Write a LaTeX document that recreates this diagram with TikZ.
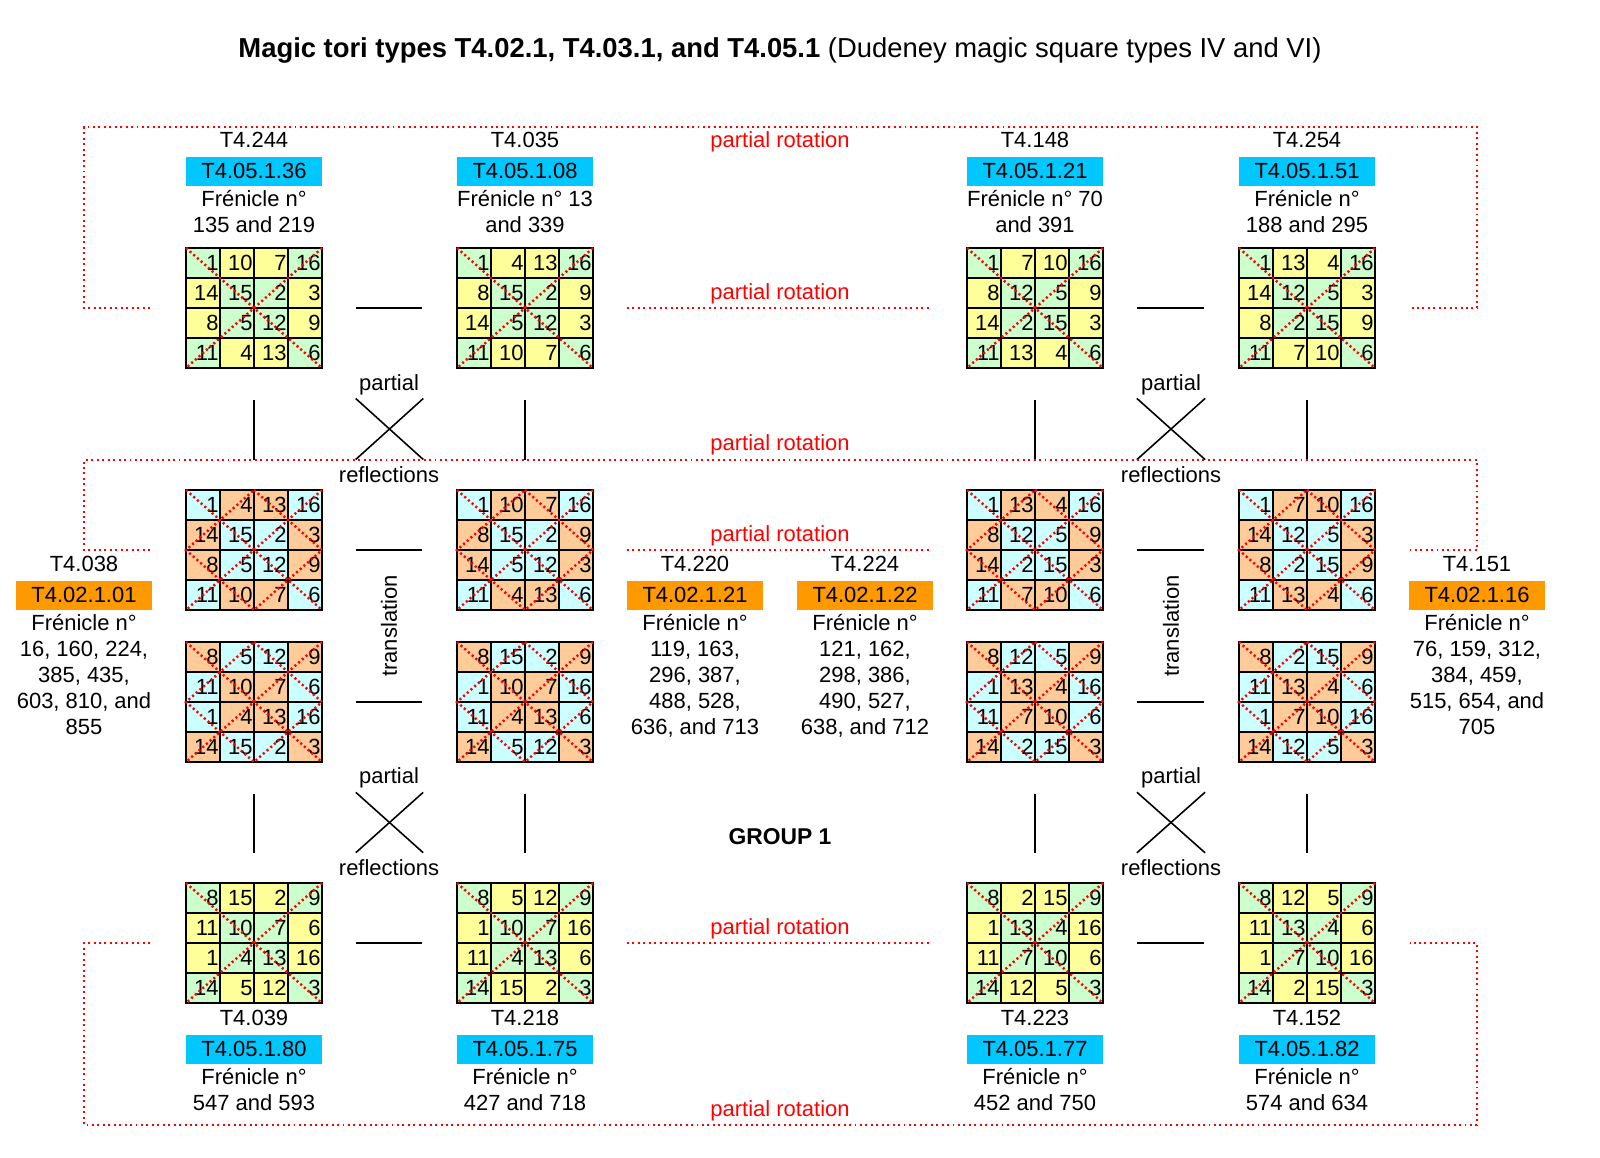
\documentclass[tikz,border=0pt]{standalone}
\usepackage{fontspec}
\setmainfont{Liberation Sans}
\usetikzlibrary{positioning}

\definecolor{cellgreen}{RGB}{204,255,204}
\definecolor{cellyellow}{RGB}{255,255,153}
\definecolor{cellcyan}{RGB}{204,255,255}
\definecolor{cellorange}{RGB}{255,204,153}
\definecolor{boxcyan}{RGB}{0,200,255}
\definecolor{boxorange}{RGB}{255,153,0}

% magic square: name, left x, top y, colour A, colour B, diamond (0/1), numbers
\newcommand{\msquare}[7]{%
  \foreach \n [count=\k from 0] in {#7} {
    \pgfmathtruncatemacro\cc{mod(\k,4)}
    \pgfmathtruncatemacro\rr{div(\k,4)}
    \pgfmathtruncatemacro\ee{((\cc==0)||(\cc==3))==((\rr==0)||(\rr==3))}
    \ifnum\ee=1 \def\fc{#4}\else\def\fc{#5}\fi
    \fill[\fc] (#2+\cc*34,#3+\rr*30) rectangle ++(34,30);
    \node[num] at (#2+\cc*34+33,#3+\rr*30+15) {\n};
  }
  \foreach \i in {1,2,3} {
    \draw[gridline] (#2+\i*34,#3) -- ++(0,120);
    \draw[gridline] (#2,#3+\i*30) -- ++(136,0);
  }
  \draw[gridline] (#2,#3) rectangle ++(136,120);
  \draw[diag] (#2,#3) -- ++(136,120);
  \draw[diag] (#2+136,#3) -- ++(-136,120);
  \ifnum#6=1
    \draw[diag] (#2+68,#3) -- ++(68,60) -- ++(-68,60) -- ++(-68,-60) -- cycle;
  \fi
  \node[sq] (#1) at (#2+68,#3+60) {};
}

\begin{document}
\begin{tikzpicture}[x=0.02cm, y=-0.02cm,
    font=\fontsize{12.5}{14.8}\selectfont,
    num/.style={anchor=east, inner sep=0pt},
    sq/.style={minimum width=2.72cm, minimum height=2.4cm, inner sep=0pt},
    gridline/.style={line width=1.1pt},
    diag/.style={red, dash pattern=on 1.2pt off 1.6pt, line width=1.4pt},
    link/.style={line width=0.9pt},
    loop/.style={red, dotted, line width=1.1pt},
    redlabel/.style={red},
    idbox/.style={minimum width=2.72cm, minimum height=0.58cm, inner sep=0pt},
    fren/.style={anchor=north, align=center, inner sep=0pt}
]

\node (title) at (780,50) {\fontsize{15.6}{18}\selectfont\textbf{Magic tori types T4.02.1, T4.03.1, and T4.05.1} (Dudeney magic square types IV and VI)};

% top row
\msquare{sa}{186}{248}{cellgreen}{cellyellow}{0}{1,10,7,16,14,15,2,3,8,5,12,9,11,4,13,6}
\msquare{sb}{457}{248}{cellgreen}{cellyellow}{0}{1,4,13,16,8,15,2,9,14,5,12,3,11,10,7,6}
\msquare{sc}{967}{248}{cellgreen}{cellyellow}{0}{1,7,10,16,8,12,5,9,14,2,15,3,11,13,4,6}
\msquare{sd}{1239}{248}{cellgreen}{cellyellow}{0}{1,13,4,16,14,12,5,3,8,2,15,9,11,7,10,6}
% middle rows
\msquare{se}{186}{490}{cellcyan}{cellorange}{1}{1,4,13,16,14,15,2,3,8,5,12,9,11,10,7,6}
\msquare{sf}{457}{490}{cellcyan}{cellorange}{1}{1,10,7,16,8,15,2,9,14,5,12,3,11,4,13,6}
\msquare{sg}{967}{490}{cellcyan}{cellorange}{1}{1,13,4,16,8,12,5,9,14,2,15,3,11,7,10,6}
\msquare{sh}{1239}{490}{cellcyan}{cellorange}{1}{1,7,10,16,14,12,5,3,8,2,15,9,11,13,4,6}
\msquare{si}{186}{642}{cellorange}{cellcyan}{1}{8,5,12,9,11,10,7,6,1,4,13,16,14,15,2,3}
\msquare{sj}{457}{642}{cellorange}{cellcyan}{1}{8,15,2,9,1,10,7,16,11,4,13,6,14,5,12,3}
\msquare{sk}{967}{642}{cellorange}{cellcyan}{1}{8,12,5,9,1,13,4,16,11,7,10,6,14,2,15,3}
\msquare{sl}{1239}{642}{cellorange}{cellcyan}{1}{8,2,15,9,11,13,4,6,1,7,10,16,14,12,5,3}
% bottom row
\msquare{sm}{186}{883}{cellgreen}{cellyellow}{0}{8,15,2,9,11,10,7,6,1,4,13,16,14,5,12,3}
\msquare{sn}{457}{883}{cellgreen}{cellyellow}{0}{8,5,12,9,1,10,7,16,11,4,13,6,14,15,2,3}
\msquare{so}{967}{883}{cellgreen}{cellyellow}{0}{8,2,15,9,1,13,4,16,11,7,10,6,14,12,5,3}
\msquare{sp}{1239}{883}{cellgreen}{cellyellow}{0}{8,12,5,9,11,13,4,6,1,7,10,16,14,2,15,3}

% labels top
\node (ta) at (254,140) {T4.244};
\node[idbox, fill=boxcyan] (ia) at (254,171) {T4.05.1.36};
\node[fren] (fa) at (254,190) {Frénicle n°\\135 and 219};
\node (tb) at (525,140) {T4.035};
\node[idbox, fill=boxcyan] (ib) at (525,171) {T4.05.1.08};
\node[fren] (fb) at (525,190) {Frénicle n° 13\\and 339};
\node (tc) at (1035,140) {T4.148};
\node[idbox, fill=boxcyan] (ic) at (1035,171) {T4.05.1.21};
\node[fren] (fc) at (1035,190) {Frénicle n° 70\\and 391};
\node (td) at (1307,140) {T4.254};
\node[idbox, fill=boxcyan] (id) at (1307,171) {T4.05.1.51};
\node[fren] (fd) at (1307,190) {Frénicle n°\\188 and 295};

% labels bottom
\node (tm) at (254,1018) {T4.039};
\node[idbox, fill=boxcyan] (im) at (254,1049) {T4.05.1.80};
\node[fren] (fm) at (254,1068) {Frénicle n°\\547 and 593};
\node (tn) at (525,1018) {T4.218};
\node[idbox, fill=boxcyan] (in) at (525,1049) {T4.05.1.75};
\node[fren] (fn) at (525,1068) {Frénicle n°\\427 and 718};
\node (to) at (1035,1018) {T4.223};
\node[idbox, fill=boxcyan] (io) at (1035,1049) {T4.05.1.77};
\node[fren] (fo) at (1035,1068) {Frénicle n°\\452 and 750};
\node (tp) at (1307,1018) {T4.152};
\node[idbox, fill=boxcyan] (ip) at (1307,1049) {T4.05.1.82};
\node[fren] (fp) at (1307,1068) {Frénicle n°\\574 and 634};

% labels middle
\node (tw) at (84,564) {T4.038};
\node[idbox, fill=boxorange] (iw) at (84,595) {T4.02.1.01};
\node[fren] (fw) at (84,614) {Frénicle n°\\16, 160, 224,\\385, 435,\\603, 810, and\\855};
\node (tx) at (695,564) {T4.220};
\node[idbox, fill=boxorange] (ix) at (695,595) {T4.02.1.21};
\node[fren] (fx) at (695,614) {Frénicle n°\\119, 163,\\296, 387,\\488, 528,\\636, and 713};
\node (ty) at (865,564) {T4.224};
\node[idbox, fill=boxorange] (iy) at (865,595) {T4.02.1.22};
\node[fren] (fy) at (865,614) {Frénicle n°\\121, 162,\\298, 386,\\490, 527,\\638, and 712};
\node (tz) at (1477,564) {T4.151};
\node[idbox, fill=boxorange] (iz) at (1477,595) {T4.02.1.16};
\node[fren] (fz) at (1477,614) {Frénicle n°\\76, 159, 312,\\384, 459,\\515, 654, and\\705};

\node[font=\fontsize{13}{15}\selectfont\bfseries] (grp) at (780,837) {GROUP 1};

% black links
\foreach \a/\b in {sa/sb, sc/sd, se/sf, si/sj, sg/sh, sk/sl, sm/sn, so/sp}
  \draw[link, shorten <=0.68cm, shorten >=0.7cm] (\a.east) -- (\b.west);
\foreach \a/\b in {sa/se, sb/sf, sc/sg, sd/sh, si/sm, sj/sn, sk/so, sl/sp}
  \draw[link, shorten <=0.64cm, shorten >=0.6cm] (\a.south) -- (\b.north);
\foreach \a/\b/\c/\d in {sa/sb/se/sf, sc/sd/sg/sh, si/sj/sm/sn, sk/sl/so/sp} {
  \draw[link, shorten <=0.9cm, shorten >=0.9cm] (\a.south east) -- (\d.north west);
  \draw[link, shorten <=0.9cm, shorten >=0.9cm] (\b.south west) -- (\c.north east);
}
\foreach \x in {389,1171} {
  \node at (\x,385) {partial};
  \node at (\x,475) {reflections};
  \node at (\x,778) {partial};
  \node at (\x,868) {reflections};
  \node[rotate=90] at (\x,626) {translation};
}

% red partial rotations
\draw[loop] (150,308) -- (84,308) -- (84,127) -- (1477,127) -- (1477,308) -- (1410,308);
\draw[loop] (627,308) -- (930,308);
\draw[loop] (150,550) -- (84,550) -- (84,460) -- (1477,460) -- (1477,550) -- (1410,550);
\draw[loop] (627,550) -- (930,550);
\draw[loop] (627,943) -- (930,943);
\draw[loop] (150,943) -- (84,943) -- (84,1125) -- (1477,1125) -- (1477,943) -- (1410,943);
\foreach \y in {142,294,445,536,929,1111}
  \node[redlabel, fill=white, inner sep=1pt] (rot\y) at (780,\y) {partial rotation};

\pgfresetboundingbox
\useasboundingbox (0,0) rectangle (1600,1157);
\end{tikzpicture}
\end{document}
